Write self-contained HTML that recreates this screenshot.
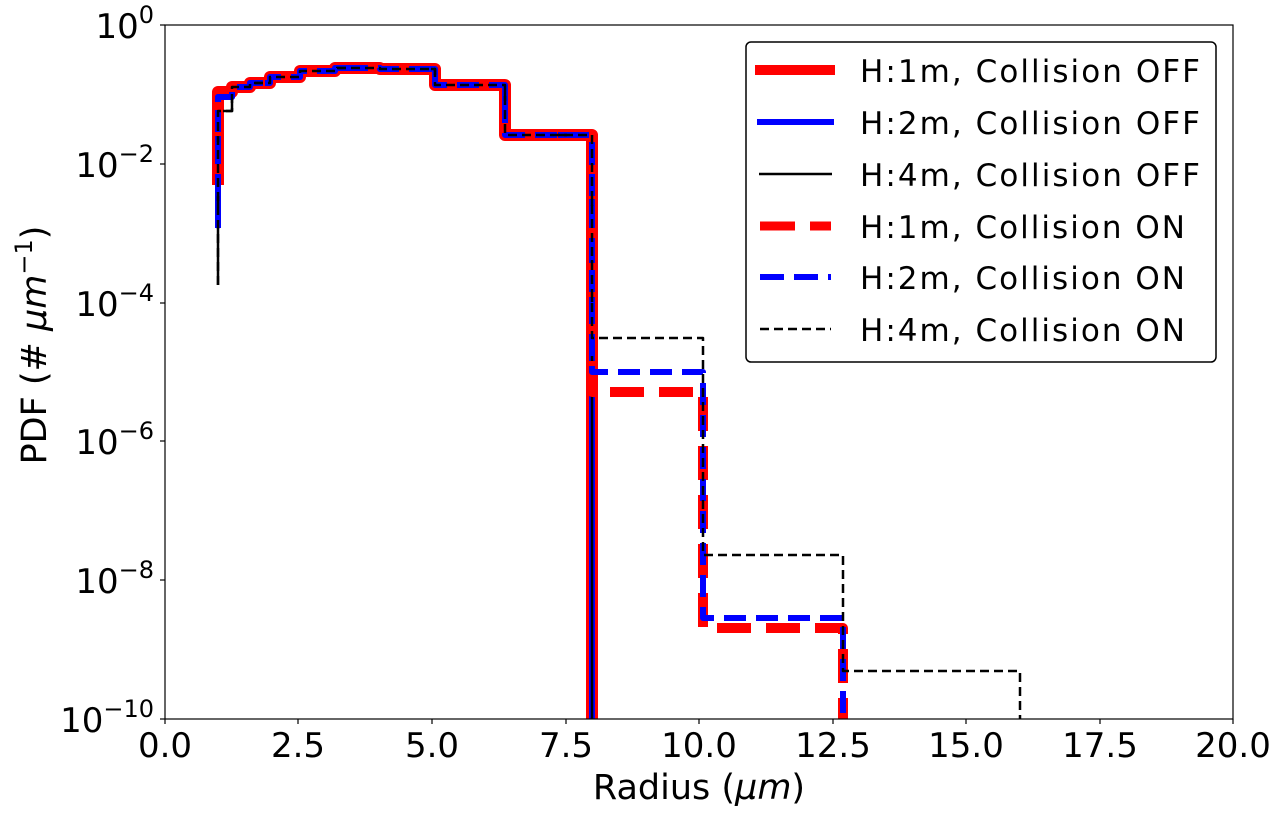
<!DOCTYPE html>
<html><head><meta charset="utf-8"><style>
html,body{margin:0;padding:0;background:#fff;}
svg{display:block;font-family:"DejaVu Sans","Liberation Sans",sans-serif;}
</style></head><body>
<svg width="1284" height="817" viewBox="0 0 1284 817" xmlns="http://www.w3.org/2000/svg">
<defs><clipPath id="c"><rect x="165" y="25" width="1068" height="694"/></clipPath></defs>
<g clip-path="url(#c)" fill="none" stroke-linejoin="round">
<path d="M218,185 V92 H232 V87 H250 V83 H270 V77 H300 V71 H335 V68 H380 V69 H435 V85 H505 V135 H592 V725" stroke="#ff0000" stroke-width="12"/>
<path d="M218,228 V97 H232 V87 H250 V83 H270 V77 H300 V71 H335 V68 H380 V69 H435 V85 H505 V135 H592 V725" stroke="#0000ff" stroke-width="6"/>
<path d="M218,285 V111 H232 V87 H250 V83 H270 V77 H300 V71 H335 V68 H380 V69 H435 V85 H505 V135 H592 V725" stroke="#000" stroke-width="2.5"/>
<path d="M218,185 V92 H232 V87 H250 V83 H270 V77 H300 V71 H335 V68 H380 V69 H435 V85 H505 V135 H592 V392 H703 V628 H843 V725" stroke="#ff0000" stroke-width="10" stroke-dasharray="34,15"/>
<path d="M218,228 V97 H232 V87 H250 V83 H270 V77 H300 V71 H335 V68 H380 V69 H435 V85 H505 V135 H592 V372 H703 V618 H843 V725" stroke="#0000ff" stroke-width="6" stroke-dasharray="22,10"/>
<path d="M218,285 V111 H232 V87 H250 V83 H270 V77 H300 V71 H335 V68 H380 V69 H435 V85 H505 V135 H592 V338 H703 V555 H843 V671 H1020 V725" stroke="#000" stroke-width="2.5" stroke-dasharray="9,5"/>
</g>
<rect x="165" y="25" width="1068" height="694" fill="none" stroke="#000" stroke-width="1.2"/>
<g stroke="#000" stroke-width="1.2">
<line x1="160" y1="25" x2="165" y2="25"/><line x1="160" y1="164" x2="165" y2="164"/><line x1="160" y1="303" x2="165" y2="303"/><line x1="160" y1="441" x2="165" y2="441"/><line x1="160" y1="580" x2="165" y2="580"/><line x1="160" y1="719" x2="165" y2="719"/>
<line x1="165" y1="719" x2="165" y2="724"/><line x1="298" y1="719" x2="298" y2="724"/><line x1="432" y1="719" x2="432" y2="724"/><line x1="566" y1="719" x2="566" y2="724"/><line x1="699" y1="719" x2="699" y2="724"/><line x1="833" y1="719" x2="833" y2="724"/><line x1="966" y1="719" x2="966" y2="724"/><line x1="1100" y1="719" x2="1100" y2="724"/><line x1="1233" y1="719" x2="1233" y2="724"/>
</g>
<g font-size="34" fill="#000" text-anchor="middle">
<text x="165" y="757">0.0</text><text x="298" y="757">2.5</text><text x="432" y="757">5.0</text><text x="566" y="757">7.5</text><text x="699" y="757">10.0</text><text x="833" y="757">12.5</text><text x="966" y="757">15.0</text><text x="1100" y="757">17.5</text><text x="1233" y="757">20.0</text>
</g>
<g font-size="34" fill="#000" text-anchor="end">
<text x="154" y="38">10<tspan font-size="24" dy="-15">0</tspan></text>
<text x="154" y="177">10<tspan font-size="24" dy="-15">−2</tspan></text>
<text x="154" y="316">10<tspan font-size="24" dy="-15">−4</tspan></text>
<text x="154" y="454">10<tspan font-size="24" dy="-15">−6</tspan></text>
<text x="154" y="593">10<tspan font-size="24" dy="-15">−8</tspan></text>
<text x="154" y="732">10<tspan font-size="24" dy="-15">−10</tspan></text>
</g>
<text x="699" y="799" font-size="35" text-anchor="middle">Radius (<tspan font-style="italic">μm</tspan>)</text>
<text transform="translate(46,345) rotate(-90)" font-size="35" text-anchor="middle">PDF (# <tspan font-style="italic">μm</tspan><tspan font-size="24" dy="-14">−1</tspan><tspan dy="14">)</tspan></text>
<rect x="746" y="42" width="470" height="320" rx="5" fill="#fff" stroke="#000" stroke-width="1.5"/>
<g fill="none">
<line x1="755" y1="70" x2="835" y2="70" stroke="#ff0000" stroke-width="10"/>
<line x1="757" y1="122" x2="834" y2="122" stroke="#0000ff" stroke-width="6"/>
<line x1="759" y1="174" x2="832" y2="174" stroke="#000" stroke-width="2.5"/>
<line x1="760" y1="226" x2="831" y2="226" stroke="#ff0000" stroke-width="9" stroke-dasharray="35,15"/>
<line x1="760" y1="277" x2="831" y2="277" stroke="#0000ff" stroke-width="6" stroke-dasharray="24,10"/>
<line x1="760" y1="329" x2="831" y2="329" stroke="#000" stroke-width="2.5" stroke-dasharray="9,5"/>
</g>
<g font-size="31" fill="#000">
<text x="860" y="82" textLength="340">H:1m, Collision OFF</text>
<text x="860" y="134" textLength="340">H:2m, Collision OFF</text>
<text x="860" y="186" textLength="340">H:4m, Collision OFF</text>
<text x="860" y="238" textLength="325">H:1m, Collision ON</text>
<text x="860" y="289" textLength="325">H:2m, Collision ON</text>
<text x="860" y="341" textLength="325">H:4m, Collision ON</text>
</g>
</svg>
</body></html>
